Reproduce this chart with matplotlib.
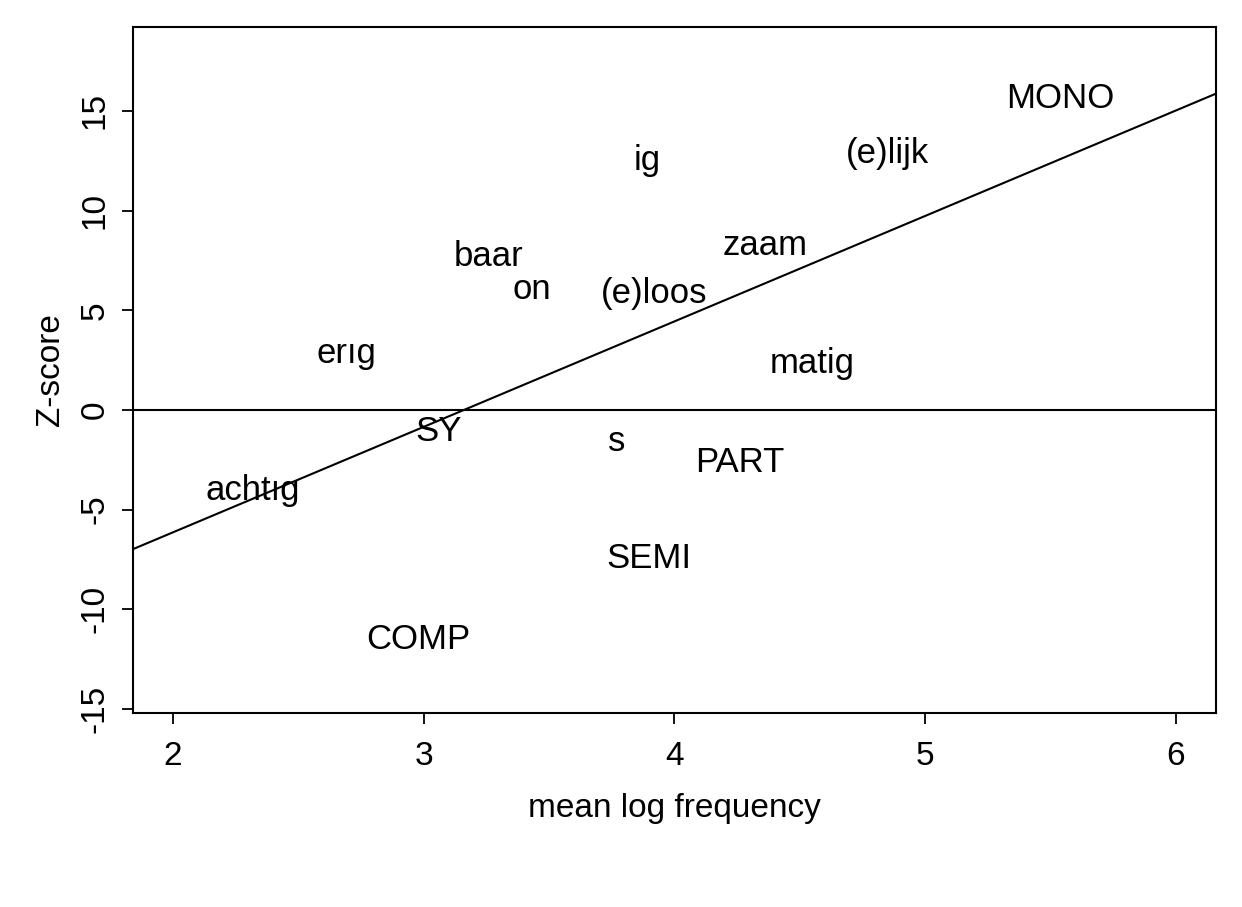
import numpy as np
import matplotlib
matplotlib.use("Agg")
import matplotlib.pyplot as plt

plt.rcParams['font.family'] = ['Liberation Sans', 'DejaVu Sans']
plt.rcParams['axes.unicode_minus'] = False

# labels and their positions (mean log frequency, Z-score)
labels = ["MONO", "(e)lijk", "ig", "zaam", "baar", "on", "(e)loos", "erıg",
          "matig", "SY", "s", "PART", "achtıg", "SEMI", "COMP"]
freq = [5.54, 4.85, 3.89, 4.36, 3.26, 3.43, 3.92, 2.69,
        4.55, 3.06, 3.77, 4.26, 2.32, 3.90, 2.98]
zscore = [15.6, 12.85, 12.5, 8.25, 7.7, 6.05, 5.85, 2.85,
          2.35, -1.1, -1.6, -2.65, -4.05, -7.45, -11.5]

# fitted regression line
slope = 5.29
intercept = -16.72

fig = plt.figure(figsize=(12.42, 9.07), dpi=100)
ax = fig.add_axes([0.107, 0.214, 0.872, 0.756])

ax.set_xlim(1.84, 6.16)
ax.set_ylim(-15.2, 19.2)

for lab, x, y in zip(labels, freq, zscore):
    ax.text(x, y, lab, ha='center', va='center', fontsize=25)

xs = np.array(ax.get_xlim())
ax.plot(xs, intercept + slope * xs, color='black', lw=1.5)
ax.axhline(0, color='black', lw=1.5)

ax.set_xticks([2, 3, 4, 5, 6])
ax.set_yticks([-15, -10, -5, 0, 5, 10, 15])
ax.tick_params(direction='out', length=8, width=1.3, labelsize=24, pad=8)
ax.tick_params(axis='x', pad=12)
plt.setp(ax.get_yticklabels(), rotation=90, va='center')
for s in ax.spines.values():
    s.set_linewidth(1.5)

ax.set_xlabel("mean log frequency", fontsize=24, labelpad=15)
ax.set_ylabel("Z-score", fontsize=24, labelpad=10)

fig.savefig("out.png", dpi=100)
